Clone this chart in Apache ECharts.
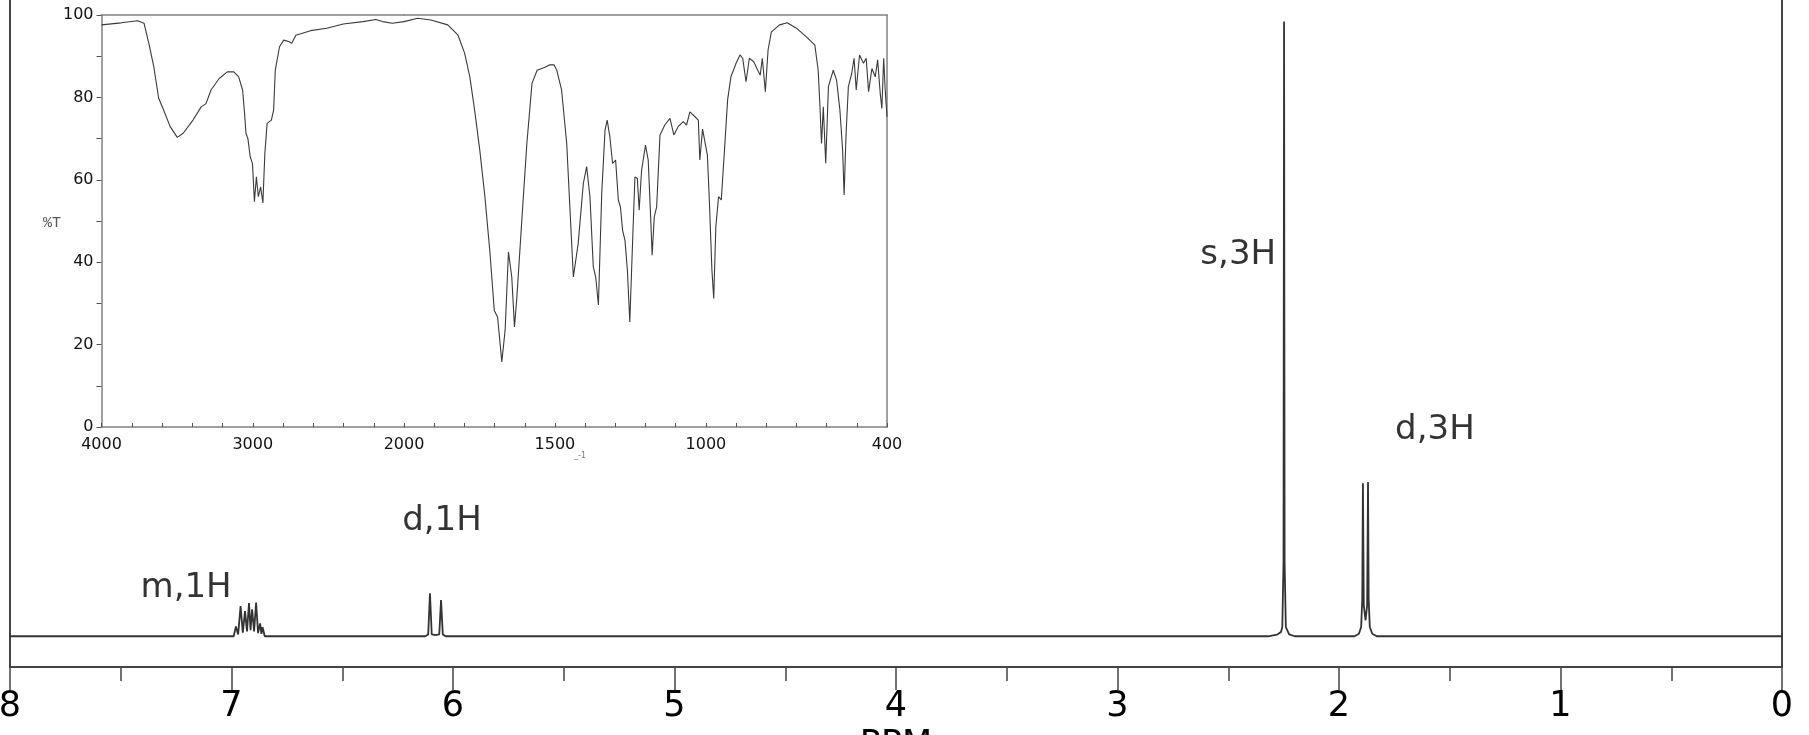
<!DOCTYPE html>
<html><head><meta charset="utf-8">
<script src="https://cdn.jsdelivr.net/npm/echarts@6/dist/echarts.min.js"></script>
<style>html,body{margin:0;padding:0;background:#fff}#c{width:1809px;height:735px}</style>
</head><body><div id="c"></div>
<script>
// ---- 1H NMR spectrum (ppm, relative intensity) ----
const nmrPpm = [8.0, 7.0, 6.990, 6.980, 6.970, 6.959, 6.949, 6.939, 6.930, 6.921, 6.914, 6.907, 6.898, 6.889, 6.880, 6.871, 6.865, 6.860, 6.850,
  6.125, 6.112, 6.104, 6.096, 6.079, 6.062, 6.054, 6.046, 6.033,
  2.320, 2.280, 2.262, 2.256, 2.2505, 2.248, 2.2455, 2.240, 2.225, 2.200,
  1.930, 1.910, 1.900, 1.895, 1.892, 1.888, 1.880, 1.873, 1.869, 1.866, 1.861, 1.850, 1.830, 0.0];
const nmrIntensity = [0, 0, 0, 1.6, 0.3, 4.9, 0.6, 4.1, 0.8, 5.4, 1.0, 4.4, 0.8, 5.5, 0.5, 2.1, 0.4, 1.5, 0,
  0, 0.3, 7.0, 0.3, 0.2, 0.3, 5.9, 0.3, 0,
  0, 0.25, 0.7, 1.5, 12, 100, 12, 1.5, 0.3, 0,
  0, 0.4, 1.5, 6, 24.9, 5, 2.6, 5, 25.1, 6, 1.5, 0.4, 0, 0];
const nmrLabelText = ['m,1H', 'd,1H', 's,3H', 'd,3H'];
const nmrLabelPpm = [7.205, 6.05, 2.455, 1.567];
const nmrLabelY = [7.9, 18.8, 62.0, 33.6];

// ---- IR inset spectrum (wavenumber cm-1, %T) ----
const irWavenumber = [4000, 3870, 3762, 3719, 3687, 3654, 3622, 3590, 3546, 3499, 3460, 3395, 3341, 3309, 3276, 3222, 3168, 3125, 3093, 3067,
  3054, 3045, 3032, 3017, 3002, 2989, 2976, 2963, 2948, 2933, 2920, 2905, 2877, 2862, 2851, 2823, 2795, 2758, 2743, 2715,
  2618, 2510, 2402, 2272, 2186, 2142, 2078, 2000, 1955, 1911, 1855, 1821, 1799, 1782, 1766, 1749, 1732, 1715, 1701, 1690,
  1676, 1665, 1654, 1643, 1634, 1626, 1609, 1593, 1576, 1559, 1531, 1517, 1503, 1494, 1478, 1461, 1450, 1439, 1423, 1406,
  1395, 1384, 1373, 1365, 1356, 1345, 1334, 1327, 1318, 1309, 1299, 1290, 1283, 1276, 1268, 1260, 1252, 1243, 1235, 1227,
  1221, 1213, 1200, 1191, 1183, 1178, 1171, 1163, 1152, 1136, 1119, 1106, 1092, 1075, 1064, 1053, 1036, 1025, 1020, 1011,
  1005, 995, 989, 980, 974, 967, 958, 949, 939, 928, 917, 900, 887, 878, 867, 856, 842, 831, 820, 813,
  803, 794, 783, 756, 731, 700, 667, 639, 628, 622, 617, 611, 603, 594, 578, 567, 556, 547, 542, 536,
  528, 517, 509, 502, 491, 478, 469, 461, 450, 439, 431, 422, 417, 411, 406, 400];
const irTransmittance = [97.6, 98.1, 98.6, 98.0, 93.1, 87.4, 79.8, 77.0, 72.9, 70.3, 71.3, 74.5, 77.7, 78.5, 81.8, 84.6, 86.2, 86.2, 85.0, 81.8,
  76.1, 71.3, 70.0, 65.6, 64.0, 54.7, 60.7, 55.9, 58.3, 54.4, 66.4, 73.7, 74.5, 76.9, 86.6, 92.3, 93.9, 93.5, 93.1, 95.1,
  96.2, 96.8, 97.8, 98.4, 98.9, 98.4, 98.0, 98.4, 99.2, 98.8, 97.6, 95.1, 90.7, 85.0, 76.9, 67.2, 55.9, 42.1, 28.3, 26.7,
  15.8, 23.5, 42.5, 36.4, 24.3, 31.6, 51.0, 68.8, 83.4, 86.6, 87.4, 87.9, 87.9, 86.6, 81.8, 68.8, 52.6, 36.4, 44.5, 59.1,
  63.2, 55.9, 38.9, 36.4, 29.6, 56.7, 72.1, 74.5, 70.4, 64.0, 64.8, 55.1, 53.4, 47.8, 45.3, 38.1, 25.5, 44.5, 60.7, 60.3,
  52.6, 62.3, 68.4, 64.8, 51.0, 41.7, 51.0, 53.4, 70.9, 73.3, 74.9, 70.9, 72.9, 74.1, 73.3, 76.5, 75.3, 74.5, 64.8, 72.3,
  72.5, 66.0, 55.9, 38.1, 31.2, 48.6, 55.9, 55.1, 66.4, 79.4, 85.0, 88.3, 90.3, 89.5, 83.8, 89.5, 88.7, 87.0, 85.4, 89.5,
  81.4, 91.5, 95.9, 97.6, 98.1, 96.8, 94.7, 92.7, 86.6, 77.7, 68.8, 77.7, 64.0, 82.6, 86.6, 84.2, 76.9, 67.2, 56.3, 70.4,
  82.6, 85.8, 89.5, 81.8, 90.3, 88.3, 89.5, 81.4, 87.0, 85.0, 89.1, 80.6, 77.3, 89.5, 81.8, 75.3];
const irXLabels = [4000, 3000, 2000, 1500, 1000, 400];
const irYLabels = [0, 20, 40, 60, 80, 100];

const FONT = 'DejaVu Sans';
const nmrData = nmrPpm.map((p, i) => [p, nmrIntensity[i]]);
const irAll = irWavenumber.map((w, i) => [w, irTransmittance[i]]);
const irHigh = irAll.filter(p => p[0] >= 2000);
const irLow = irAll.filter(p => p[0] <= 2000);
const labelData = nmrLabelText.map((t, i) => ({ name: t, value: [nmrLabelPpm[i], nmrLabelY[i]] }));

const chart = echarts.init(document.getElementById('c'), null, { renderer: 'canvas' });
const boxColor = '#808080';
chart.setOption({
  animation: false,
  backgroundColor: '#fff',
  grid: [
    { left: 10, right: 27, top: 0, bottom: 68, outerBoundsMode: 'none', containLabel: false },
    { left: 101.5, top: 15, width: 302.5, height: 412, outerBoundsMode: 'none', containLabel: false },
    { left: 404, top: 15, width: 483, height: 412, outerBoundsMode: 'none', containLabel: false }
  ],
  xAxis: [
    { gridIndex: 0, type: 'value', min: 0, max: 8, interval: 1, inverse: true,
      name: 'PPM', nameLocation: 'middle', nameGap: 45,
      nameTextStyle: { fontFamily: FONT, fontSize: 35, color: '#000' },
      axisLine: { onZero: false, lineStyle: { color: '#444', width: 2 } },
      axisTick: { length: 23, lineStyle: { color: '#444', width: 1.5 } },
      minorTick: { show: true, splitNumber: 2, length: 14, lineStyle: { color: '#444', width: 1.5 } },
      axisLabel: { fontFamily: FONT, fontSize: 35, color: '#000', margin: 22, showMinLabel: true, showMaxLabel: true },
      splitLine: { show: false } },
    { gridIndex: 1, type: 'value', min: 2000, max: 4000, interval: 200, inverse: true,
      axisLine: { onZero: false, lineStyle: { color: boxColor, width: 1.5 } },
      axisTick: { inside: true, length: 4, lineStyle: { color: '#555' } },
      axisLabel: { fontFamily: FONT, fontSize: 16, color: '#111', margin: 10,
        formatter: v => (irXLabels.includes(v) && v !== 2000) ? String(v) : '' },
      splitLine: { show: false } },
    { gridIndex: 1, type: 'value', min: 2000, max: 4000, inverse: true, position: 'top',
      axisLine: { onZero: false, lineStyle: { color: boxColor, width: 1.5 } },
      axisTick: { show: false }, axisLabel: { show: false }, splitLine: { show: false } },
    { gridIndex: 2, type: 'value', min: 400, max: 2000, interval: 100, inverse: true,
      axisLine: { onZero: false, lineStyle: { color: boxColor, width: 1.5 } },
      axisTick: { inside: true, length: 4, lineStyle: { color: '#555' } },
      axisLabel: { fontFamily: FONT, fontSize: 16, color: '#111', margin: 10, showMinLabel: true, showMaxLabel: true,
        formatter: v => irXLabels.includes(v) ? String(v) : '' },
      splitLine: { show: false } },
    { gridIndex: 2, type: 'value', min: 400, max: 2000, inverse: true, position: 'top',
      axisLine: { onZero: false, lineStyle: { color: boxColor, width: 1.5 } },
      axisTick: { show: false }, axisLabel: { show: false }, splitLine: { show: false } }
  ],
  yAxis: [
    { gridIndex: 0, type: 'value', min: -5, max: 103.5,
      axisLine: { show: true, onZero: false, lineStyle: { color: '#444', width: 2 } },
      axisTick: { show: false }, axisLabel: { show: false }, splitLine: { show: false } },
    { gridIndex: 0, type: 'value', min: -5, max: 103.5, position: 'right',
      axisLine: { show: true, onZero: false, lineStyle: { color: '#444', width: 2 } },
      axisTick: { show: false }, axisLabel: { show: false }, splitLine: { show: false } },
    { gridIndex: 1, type: 'value', min: 0, max: 100, interval: 10,
      axisLine: { show: true, onZero: false, lineStyle: { color: boxColor, width: 1.5 } },
      axisTick: { show: true, length: 5, lineStyle: { color: '#555' } },
      axisLabel: { fontFamily: FONT, fontSize: 16, color: '#111', margin: 8,
        formatter: v => irYLabels.includes(v) ? String(v) : '' },
      splitLine: { show: false } },
    { gridIndex: 2, type: 'value', min: 0, max: 100, position: 'right',
      axisLine: { show: true, onZero: false, lineStyle: { color: boxColor, width: 1.5 } },
      axisTick: { show: false }, axisLabel: { show: false }, splitLine: { show: false } }
  ],
  series: [
    { type: 'line', xAxisIndex: 0, yAxisIndex: 0, data: nmrData, showSymbol: false, symbol: 'none',
      lineStyle: { color: '#333', width: 1.8 } },
    { type: 'scatter', xAxisIndex: 0, yAxisIndex: 0, data: labelData, symbolSize: 0, silent: true,
      label: { show: true, position: 'inside', formatter: p => p.name, fontFamily: FONT, fontSize: 34, color: '#000' } },
    { type: 'line', xAxisIndex: 1, yAxisIndex: 2, data: irHigh, showSymbol: false, symbol: 'none',
      lineStyle: { color: '#3a3a3a', width: 1.1 } },
    { type: 'line', xAxisIndex: 3, yAxisIndex: 3, data: irLow, showSymbol: false, symbol: 'none',
      lineStyle: { color: '#3a3a3a', width: 1.1 } }
  ],
  graphic: [
    { type: 'text', left: 43, top: 216, style: { text: '%T', fontFamily: 'Liberation Mono', fontSize: 15, fill: '#555' } },
    { type: 'text', left: 574, top: 452, style: { text: '_-1', fontFamily: FONT, fontSize: 8, fill: '#777' } }
  ]
});
</script></body></html>
